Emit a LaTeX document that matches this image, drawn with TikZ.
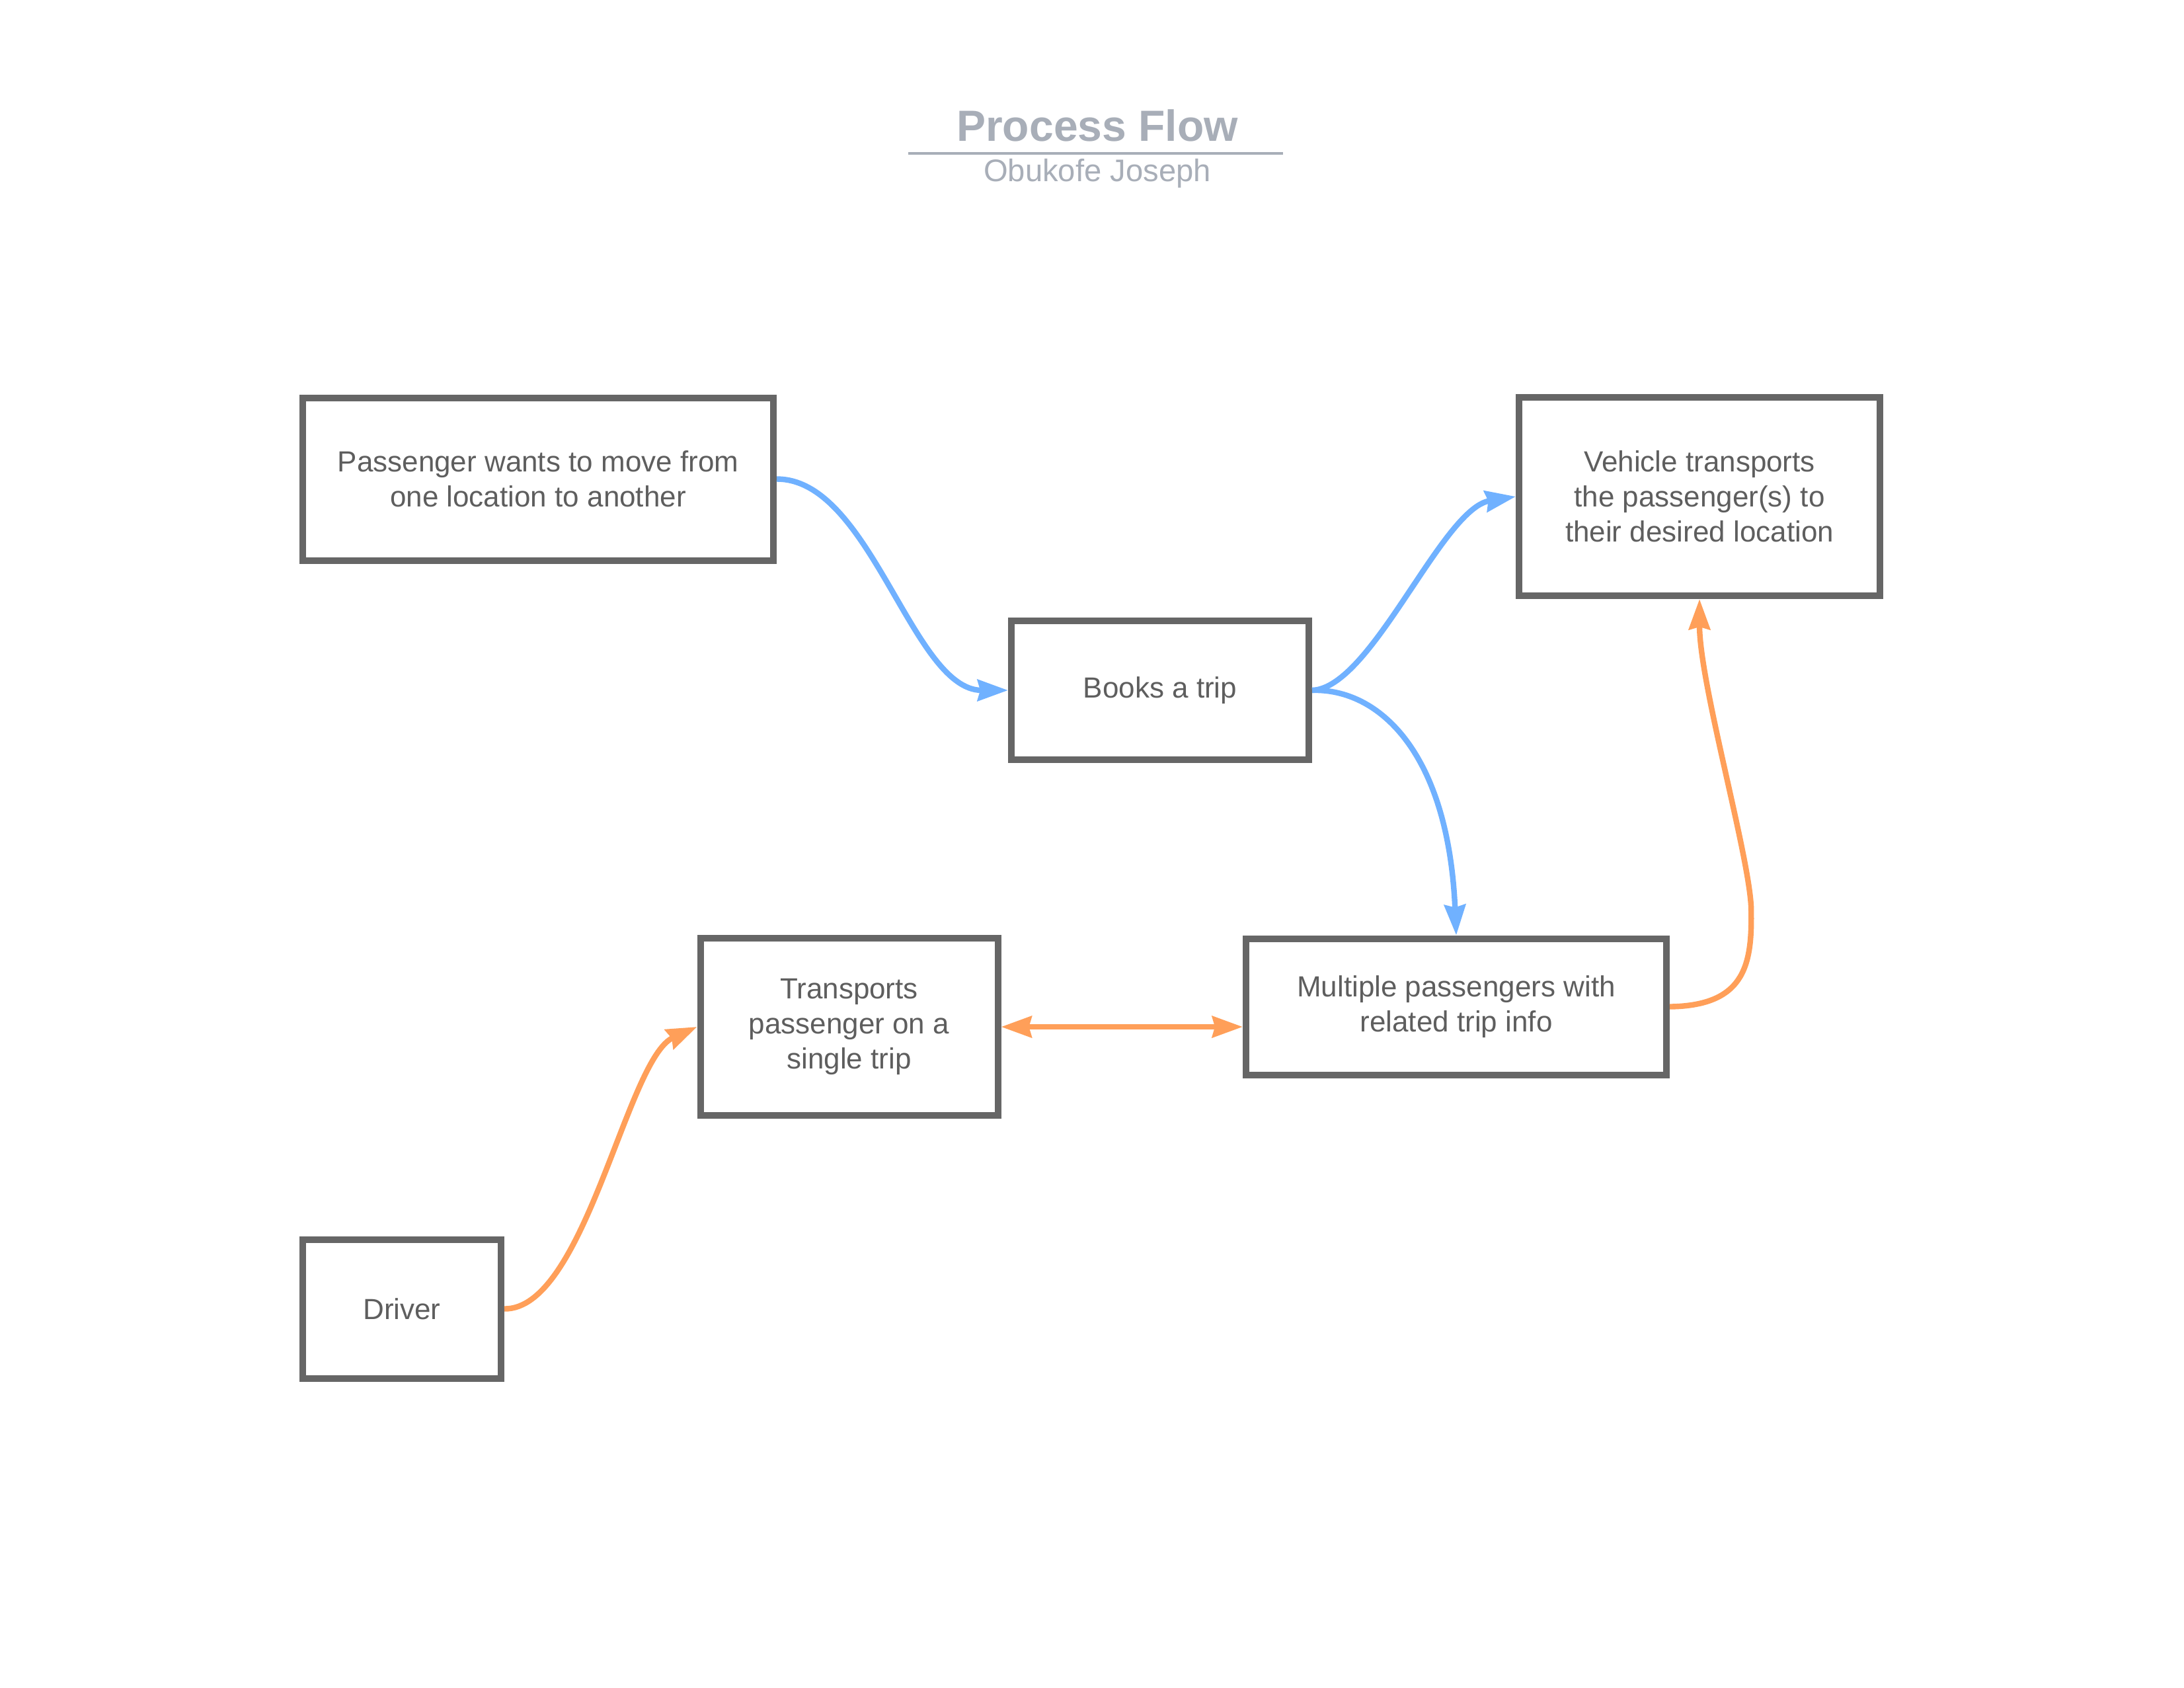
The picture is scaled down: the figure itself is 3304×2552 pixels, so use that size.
\documentclass[tikz,border=0pt]{standalone}
\usepackage{fontspec}
\setmainfont{Liberation Sans}
\usetikzlibrary{arrows.meta}
\definecolor{boxline}{HTML}{666666}
\definecolor{boxtext}{HTML}{5E5E5E}
\definecolor{titlecol}{HTML}{A8AEB8}
\definecolor{bluearr}{HTML}{70B1FF}
\definecolor{orangearr}{HTML}{FF9F59}
\tikzset{
  procbox/.style={draw=boxline, line width=2.5pt, fill=white, text=boxtext,
    align=center, font=\fontsize{11}{13.2}\selectfont, inner sep=0pt},
  tip/.tip={Stealth[length=11.5pt,width=8pt,inset=1pt]},
  bluecon/.style={draw=bluearr, line width=2.1pt, -tip},
  orangecon/.style={draw=orangearr, line width=2.1pt, -tip},
  orangebi/.style={draw=orangearr, line width=2.1pt, tip-tip},
}
\begin{document}
\begin{tikzpicture}[x=0.25pt,y=-0.25pt]
\path[use as bounding box, fill=white] (0,0) rectangle (3304,2552);

% title
\node[text=titlecol, font=\fontsize{16.5}{18}\selectfont\bfseries] (title) at (1660,190) {Process Flow};
\coordinate (ulL) at (1374,232);
\coordinate (ulR) at (1941,232);
\draw[titlecol, line width=1pt] (ulL) -- (ulR);
\node[text=titlecol, font=\fontsize{11.8}{14}\selectfont] (subtitle) at (1660,262) {Obukofe Joseph};

% boxes
\node[procbox, minimum width=178pt, minimum height=61.5pt] (A) at (814,724.5)
  {Passenger wants to move from\\one location to another};
\node[procbox, minimum width=112.5pt, minimum height=52.5pt] (B) at (1755,1044)
  {Books a trip};
\node[procbox, minimum width=136.5pt, minimum height=75pt] (C) at (2571,751)
  {Vehicle transports\\the passenger(s) to\\their desired location};
\node[procbox, minimum width=112.5pt, minimum height=67pt] (D) at (1284.5,1553)
  {Transports\\passenger on a\\single trip};
\node[procbox, minimum width=159pt, minimum height=51.5pt] (E) at (2203,1522.5)
  {Multiple passengers with\\related trip info};
\node[procbox, minimum width=75pt, minimum height=52.5pt] (F) at (608,1979.5)
  {Driver};

% blue connectors
\draw[bluecon] (A.east) .. controls (1317,724) and (1380,1044) .. (B.west);
\draw[bluecon] (B.east) .. controls (2075,1041) and (2181,769) .. (C.west);
\draw[bluecon] (B.east) .. controls (2086,1041) and (2191,1138) .. (E.north);

% orange connectors
\draw[orangebi] (D.east) -- (D.east -| E.west);
\draw[orangecon] (E.east) .. controls (2644,1521) and (2651,1454) .. (2649,1370)
  .. controls (2644,1285) and (2571,1032) .. (C.south);
\draw[orangecon] (F.east) .. controls (885,1981) and (948,1601) .. (D.west);
\end{tikzpicture}
\end{document}
